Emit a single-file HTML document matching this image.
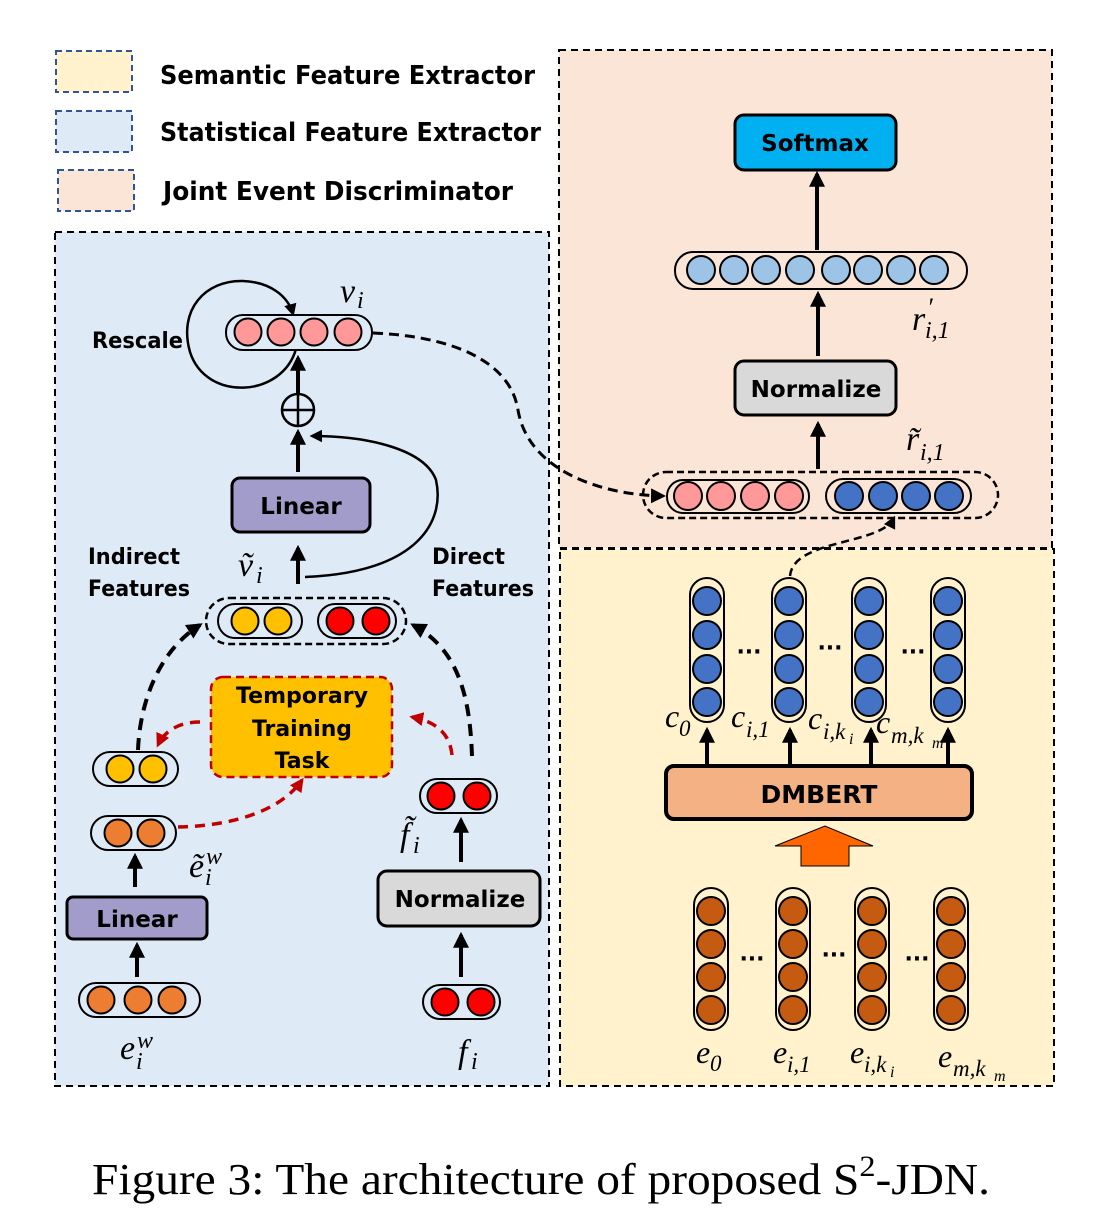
<!DOCTYPE html>
<html><head><meta charset="utf-8"><style>
html,body{margin:0;padding:0;background:#fff}
svg{display:block}
.t{font-family:"DejaVu Sans","Liberation Sans",sans-serif;font-weight:bold;fill:#000}
.m{font-family:"Liberation Serif","DejaVu Serif",serif;font-style:italic;fill:#000}
</style></head><body>
<svg width="1094" height="1228" viewBox="0 0 1094 1228" xmlns="http://www.w3.org/2000/svg">
<defs>
<marker id="a" viewBox="0 0 10 10" refX="8" refY="5" markerWidth="4" markerHeight="4" orient="auto"><path d="M0,0L10,5L0,10z" fill="#000"/></marker>
<marker id="as" viewBox="0 0 10 10" refX="8" refY="5" markerWidth="5" markerHeight="5" orient="auto"><path d="M0,0L10,5L0,10z" fill="#000"/></marker>
<marker id="ar" viewBox="0 0 10 10" refX="8" refY="5" markerWidth="4" markerHeight="4" orient="auto"><path d="M0,0L10,5L0,10z" fill="#c00000"/></marker>
</defs>
<rect x="55" y="232" width="494" height="854" fill="#deeaf6" stroke="#000" stroke-width="2" stroke-dasharray="7,5"/>
<rect x="559" y="50" width="493" height="498" fill="#fbe5d6" stroke="#000" stroke-width="2" stroke-dasharray="7,5"/>
<rect x="560" y="549" width="494" height="537" fill="#fff2cc" stroke="#000" stroke-width="2" stroke-dasharray="7,5"/>
<rect x="56" y="51" width="76" height="41" fill="#fff2cc" stroke="#2f5597" stroke-width="2" stroke-dasharray="6,4"/>
<rect x="56" y="111" width="76" height="41" fill="#deeaf6" stroke="#2f5597" stroke-width="2" stroke-dasharray="6,4"/>
<rect x="58" y="170" width="76" height="41" fill="#fbe5d6" stroke="#2f5597" stroke-width="2" stroke-dasharray="6,4"/>
<text class="t" x="160" y="84" font-size="26" textLength="375" lengthAdjust="spacingAndGlyphs">Semantic Feature Extractor</text>
<text class="t" x="160" y="141" font-size="26" textLength="381" lengthAdjust="spacingAndGlyphs">Statistical Feature Extractor</text>
<text class="t" x="163" y="200" font-size="26" textLength="350" lengthAdjust="spacingAndGlyphs">Joint Event Discriminator</text>

<rect x="735" y="115" width="161" height="55" rx="9" fill="#00b0f0" stroke="#000" stroke-width="3"/>
<text class="t" x="815" y="151" font-size="23" text-anchor="middle">Softmax</text>
<line x1="817" y1="250" x2="817" y2="174" stroke="#000" stroke-width="4" marker-end="url(#a)"/>
<rect x="675" y="252" width="292" height="37" rx="18" fill="none" stroke="#000" stroke-width="2"/>
<g fill="#9dc3e6" stroke="#000" stroke-width="2">
<circle cx="701" cy="270" r="14"/><circle cx="734" cy="270" r="14"/><circle cx="766" cy="270" r="14"/><circle cx="800" cy="270" r="14"/><circle cx="836" cy="270" r="14"/><circle cx="868" cy="270" r="14"/><circle cx="901" cy="270" r="14"/><circle cx="934" cy="270" r="14"/>
</g>
<line x1="818" y1="356" x2="818" y2="294" stroke="#000" stroke-width="4" marker-end="url(#a)"/>
<text class="m" x="912" y="330" font-size="34">r</text><text class="m" x="927" y="316" font-size="26">′</text><text class="m" x="925" y="338" font-size="24">i,1</text>
<rect x="735" y="361" width="161" height="54" rx="9" fill="#d9d9d9" stroke="#000" stroke-width="3"/>
<text class="t" x="816" y="397" font-size="23" text-anchor="middle">Normalize</text>
<line x1="818" y1="469" x2="818" y2="424" stroke="#000" stroke-width="4" marker-end="url(#a)"/>
<text class="m" x="906" y="450" font-size="34">r̃</text><text class="m" x="920" y="460" font-size="24">i,1</text>
<rect x="643" y="472" width="355" height="46" rx="23" fill="none" stroke="#000" stroke-width="2.5" stroke-dasharray="7,4"/>
<rect x="667" y="480" width="142" height="33" rx="16" fill="none" stroke="#000" stroke-width="2"/>
<rect x="826" y="479" width="145" height="34" rx="17" fill="none" stroke="#000" stroke-width="2"/>
<g stroke="#000" stroke-width="2">
<circle cx="688" cy="496" r="14" fill="#ff9999"/><circle cx="721" cy="496" r="14" fill="#ff9999"/><circle cx="755" cy="496" r="14" fill="#ff9999"/><circle cx="789" cy="496" r="14" fill="#ff9999"/>
<circle cx="849" cy="496" r="14" fill="#4472c4"/><circle cx="883" cy="496" r="14" fill="#4472c4"/><circle cx="916" cy="496" r="14" fill="#4472c4"/><circle cx="949" cy="496" r="14" fill="#4472c4"/>
</g>

<g stroke="#000" stroke-width="2">
<rect x="690" y="578" width="34" height="144" rx="17" fill="none"/>
<rect x="772" y="578" width="34" height="144" rx="17" fill="none"/>
<rect x="852" y="578" width="34" height="144" rx="17" fill="none"/>
<rect x="931" y="578" width="34" height="144" rx="17" fill="none"/>
</g>
<g fill="#4472c4" stroke="#000" stroke-width="2">
<circle cx="707" cy="601" r="14"/><circle cx="707" cy="635" r="14"/><circle cx="707" cy="669" r="14"/><circle cx="707" cy="702" r="14"/>
<circle cx="789" cy="601" r="14"/><circle cx="789" cy="635" r="14"/><circle cx="789" cy="669" r="14"/><circle cx="789" cy="702" r="14"/>
<circle cx="869" cy="601" r="14"/><circle cx="869" cy="635" r="14"/><circle cx="869" cy="669" r="14"/><circle cx="869" cy="702" r="14"/>
<circle cx="948" cy="601" r="14"/><circle cx="948" cy="635" r="14"/><circle cx="948" cy="669" r="14"/><circle cx="948" cy="702" r="14"/>
</g>
<text class="t" x="749" y="659" font-size="22" text-anchor="middle">···</text>
<text class="t" x="830" y="655" font-size="22" text-anchor="middle">···</text>
<text class="t" x="913" y="659" font-size="22" text-anchor="middle">···</text>
<g stroke="#000" stroke-width="4">
<line x1="707" y1="764" x2="707" y2="730" marker-end="url(#a)"/>
<line x1="790" y1="764" x2="790" y2="730" marker-end="url(#a)"/>
<line x1="871" y1="764" x2="871" y2="730" marker-end="url(#a)"/>
<line x1="948" y1="764" x2="948" y2="730" marker-end="url(#a)"/>
</g>
<text class="m" x="665" y="727" font-size="32">c</text><text class="m" x="679" y="736" font-size="23">0</text>
<text class="m" x="731" y="727" font-size="32">c</text><text class="m" x="746" y="737" font-size="23">i,1</text>
<text class="m" x="808" y="729" font-size="32">c</text><text class="m" x="823" y="739" font-size="23">i,k</text><text class="m" x="849" y="744" font-size="16">i</text>
<text class="m" x="876" y="733" font-size="32">c</text><text class="m" x="891" y="743" font-size="23">m,k</text><text class="m" x="932" y="748" font-size="16">m</text>
<rect x="666" y="766" width="306" height="53" rx="8" fill="#f4b183" stroke="#000" stroke-width="4"/>
<text class="t" x="819" y="803" font-size="25" text-anchor="middle">DMBERT</text>
<polygon points="775,846 825,826 873,846 849,846 849,866 801,866 801,846" fill="#ff6600" stroke="#000" stroke-width="1"/>
<g stroke="#000" stroke-width="2">
<rect x="694" y="888" width="34" height="142" rx="17" fill="none"/>
<rect x="776" y="888" width="34" height="142" rx="17" fill="none"/>
<rect x="855" y="888" width="34" height="142" rx="17" fill="none"/>
<rect x="934" y="888" width="34" height="142" rx="17" fill="none"/>
</g>
<g fill="#c55a11" stroke="#000" stroke-width="2">
<circle cx="711" cy="911" r="14"/><circle cx="711" cy="944" r="14"/><circle cx="711" cy="977" r="14"/><circle cx="711" cy="1010" r="14"/>
<circle cx="793" cy="911" r="14"/><circle cx="793" cy="944" r="14"/><circle cx="793" cy="977" r="14"/><circle cx="793" cy="1010" r="14"/>
<circle cx="872" cy="911" r="14"/><circle cx="872" cy="944" r="14"/><circle cx="872" cy="977" r="14"/><circle cx="872" cy="1010" r="14"/>
<circle cx="951" cy="911" r="14"/><circle cx="951" cy="944" r="14"/><circle cx="951" cy="977" r="14"/><circle cx="951" cy="1010" r="14"/>
</g>
<text class="t" x="752" y="966" font-size="22" text-anchor="middle">···</text>
<text class="t" x="834" y="962" font-size="22" text-anchor="middle">···</text>
<text class="t" x="917" y="966" font-size="22" text-anchor="middle">···</text>
<text class="m" x="696" y="1063" font-size="32">e</text><text class="m" x="710" y="1071" font-size="23">0</text>
<text class="m" x="773" y="1063" font-size="32">e</text><text class="m" x="787" y="1072" font-size="23">i,1</text>
<text class="m" x="850" y="1063" font-size="32">e</text><text class="m" x="864" y="1072" font-size="23">i,k</text><text class="m" x="890" y="1077" font-size="16">i</text>
<text class="m" x="938" y="1067" font-size="32">e</text><text class="m" x="953" y="1076" font-size="23">m,k</text><text class="m" x="994" y="1081" font-size="16">m</text>
<path d="M790,576 C792,552 830,546 858,538 C880,532 890,526 894,518" fill="none" stroke="#000" stroke-width="2.5" stroke-dasharray="8,5" marker-end="url(#as)"/>

<path d="M373,333 C450,336 510,360 518,410 C528,470 600,495 663,496" fill="none" stroke="#000" stroke-width="3" stroke-dasharray="10,6" marker-end="url(#as)"/>

<path d="M296,349 C282,398 206,402 190,352 C178,310 205,280 243,281 C270,282 288,296 293,314" fill="none" stroke="#000" stroke-width="2.5" marker-end="url(#as)"/>
<text class="t" x="92" y="348" font-size="22" textLength="91" lengthAdjust="spacingAndGlyphs">Rescale</text>
<rect x="226" y="315" width="146" height="35" rx="17" fill="#deeaf6" stroke="#000" stroke-width="2"/>
<g fill="#ff9999" stroke="#000" stroke-width="2">
<circle cx="248" cy="332" r="13.5"/><circle cx="281" cy="332" r="13.5"/><circle cx="314" cy="332" r="13.5"/><circle cx="348" cy="332" r="13.5"/>
</g>
<text class="m" x="340" y="302" font-size="34">v</text><text class="m" x="357" y="308" font-size="24">i</text>
<line x1="298" y1="393" x2="298" y2="358" stroke="#000" stroke-width="4" marker-end="url(#a)"/>
<circle cx="298" cy="410" r="16" fill="none" stroke="#000" stroke-width="2.5"/>
<line x1="282" y1="410" x2="314" y2="410" stroke="#000" stroke-width="2.5"/><line x1="298" y1="394" x2="298" y2="426" stroke="#000" stroke-width="2.5"/>
<line x1="298" y1="472" x2="298" y2="432" stroke="#000" stroke-width="4" marker-end="url(#a)"/>
<path d="M305,577 C420,572 445,520 436,480 C425,450 370,436 312,436" fill="none" stroke="#000" stroke-width="2.5" marker-end="url(#as)"/>
<rect x="232" y="478" width="138" height="54" rx="8" fill="#a29ccb" stroke="#000" stroke-width="3"/>
<text class="t" x="301" y="514" font-size="23" text-anchor="middle">Linear</text>
<line x1="298" y1="584" x2="298" y2="548" stroke="#000" stroke-width="4" marker-end="url(#a)"/>
<text class="t" x="88" y="564" font-size="22" textLength="92" lengthAdjust="spacingAndGlyphs">Indirect</text>
<text class="t" x="88" y="596" font-size="22" textLength="102" lengthAdjust="spacingAndGlyphs">Features</text>
<text class="t" x="432" y="564" font-size="22" textLength="73" lengthAdjust="spacingAndGlyphs">Direct</text>
<text class="t" x="432" y="596" font-size="22" textLength="102" lengthAdjust="spacingAndGlyphs">Features</text>
<text class="m" x="238" y="576" font-size="34">ṽ</text><text class="m" x="256" y="583" font-size="24">i</text>
<rect x="206" y="598" width="200" height="46" rx="23" fill="none" stroke="#000" stroke-width="2.5" stroke-dasharray="7,4"/>
<rect x="218" y="604" width="84" height="34" rx="17" fill="none" stroke="#000" stroke-width="2"/>
<rect x="318" y="604" width="78" height="34" rx="17" fill="none" stroke="#000" stroke-width="2"/>
<g stroke="#000" stroke-width="2">
<circle cx="245" cy="621" r="13.5" fill="#ffc000"/><circle cx="278" cy="621" r="13.5" fill="#ffc000"/>
<circle cx="340" cy="621" r="13.5" fill="#ff0000"/><circle cx="376" cy="621" r="13.5" fill="#ff0000"/>
</g>
<path d="M138,750 C140,700 160,650 200,625" fill="none" stroke="#000" stroke-width="4" stroke-dasharray="12,8" marker-end="url(#a)"/>
<path d="M472,756 C470,700 460,650 413,625" fill="none" stroke="#000" stroke-width="4" stroke-dasharray="12,8" marker-end="url(#a)"/>

<rect x="211" y="677" width="181" height="100" rx="12" fill="#ffc000" stroke="#c00000" stroke-width="2.5" stroke-dasharray="8,5"/>
<text class="t" x="302" y="703" font-size="22" text-anchor="middle" textLength="132" lengthAdjust="spacingAndGlyphs">Temporary</text>
<text class="t" x="302" y="736" font-size="22" text-anchor="middle" textLength="100" lengthAdjust="spacingAndGlyphs">Training</text>
<text class="t" x="302" y="768" font-size="22" text-anchor="middle">Task</text>
<path d="M200,722 C180,722 165,730 158,745" fill="none" stroke="#c00000" stroke-width="3.5" stroke-dasharray="10,7" marker-end="url(#ar)"/>
<path d="M178,827 C230,826 280,812 302,780" fill="none" stroke="#c00000" stroke-width="3.5" stroke-dasharray="10,7" marker-end="url(#ar)"/>
<path d="M452,755 C450,735 438,722 412,717" fill="none" stroke="#c00000" stroke-width="3.5" stroke-dasharray="10,7" marker-end="url(#ar)"/>

<rect x="93" y="752" width="85" height="34" rx="17" fill="#deeaf6" stroke="#000" stroke-width="2"/>
<g fill="#ffc000" stroke="#000" stroke-width="2"><circle cx="120" cy="769" r="13.5"/><circle cx="153" cy="769" r="13.5"/></g>
<rect x="91" y="816" width="85" height="34" rx="17" fill="#deeaf6" stroke="#000" stroke-width="2"/>
<g fill="#ed7d31" stroke="#000" stroke-width="2"><circle cx="118" cy="833" r="13.5"/><circle cx="151" cy="833" r="13.5"/></g>
<text class="m" x="189" y="877" font-size="34">ẽ</text><text class="m" x="206" y="864" font-size="24">w</text><text class="m" x="205" y="885" font-size="24">i</text>
<line x1="135" y1="887" x2="135" y2="856" stroke="#000" stroke-width="4" marker-end="url(#a)"/>
<rect x="67" y="897" width="140" height="42" rx="6" fill="#a29ccb" stroke="#000" stroke-width="3"/>
<text class="t" x="137" y="927" font-size="23" text-anchor="middle">Linear</text>
<line x1="137" y1="977" x2="137" y2="945" stroke="#000" stroke-width="4" marker-end="url(#a)"/>
<rect x="79" y="983" width="121" height="34" rx="17" fill="#deeaf6" stroke="#000" stroke-width="2"/>
<g fill="#ed7d31" stroke="#000" stroke-width="2"><circle cx="101" cy="1000" r="13.5"/><circle cx="138" cy="1000" r="13.5"/><circle cx="172" cy="1000" r="13.5"/></g>
<text class="m" x="120" y="1059" font-size="34">e</text><text class="m" x="137" y="1048" font-size="24">w</text><text class="m" x="136" y="1069" font-size="24">i</text>

<rect x="420" y="779" width="77" height="34" rx="17" fill="#deeaf6" stroke="#000" stroke-width="2"/>
<g fill="#ff0000" stroke="#000" stroke-width="2"><circle cx="441" cy="796" r="13.5"/><circle cx="477" cy="796" r="13.5"/></g>
<text class="m" x="400" y="846" font-size="34">f̃</text><text class="m" x="413" y="853" font-size="24">i</text>
<line x1="461" y1="862" x2="461" y2="820" stroke="#000" stroke-width="4" marker-end="url(#a)"/>
<rect x="378" y="871" width="162" height="55" rx="9" fill="#d9d9d9" stroke="#000" stroke-width="3"/>
<text class="t" x="460" y="907" font-size="23" text-anchor="middle">Normalize</text>
<line x1="461" y1="977" x2="461" y2="935" stroke="#000" stroke-width="4" marker-end="url(#a)"/>
<rect x="423" y="985" width="77" height="34" rx="17" fill="#deeaf6" stroke="#000" stroke-width="2"/>
<g fill="#ff0000" stroke="#000" stroke-width="2"><circle cx="445" cy="1002" r="13.5"/><circle cx="481" cy="1002" r="13.5"/></g>
<text class="m" x="458" y="1063" font-size="34">f</text><text class="m" x="471" y="1069" font-size="24">i</text>

<text x="92" y="1194" font-family="Liberation Serif, serif" font-size="44" fill="#000" textLength="898" lengthAdjust="spacingAndGlyphs">Figure 3: The architecture of proposed S<tspan dy="-18" font-size="30">2</tspan><tspan dy="18">-JDN.</tspan></text>
</svg>
</body></html>
